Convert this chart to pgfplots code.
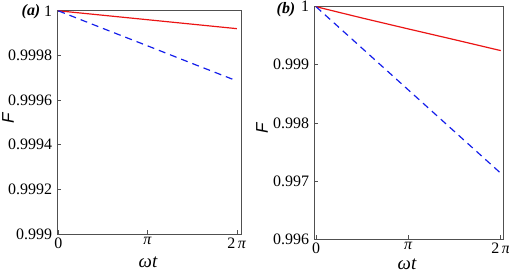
\documentclass[border=0pt]{standalone}
\usepackage{pgfplots}
\pgfplotsset{compat=1.18}
\usepackage{fontspec}
\setmainfont{Liberation Serif}
\newfontfamily\lsans{Liberation Sans}
\definecolor{framec}{RGB}{80,80,80}
\definecolor{myred}{RGB}{235,20,20}
\definecolor{myblue}{RGB}{20,30,235}
\pgfplotsset{
  mystyle/.style={
    scale only axis,
    anchor=south west,
    axis line style={framec, line width=0.9pt},
    tick style={framec, line width=0.6pt},
    major tick length=4bp,
    xtick pos=bottom, ytick pos=left,
    tick align=inside,
    xtick={0,3.14159,6.28319},
    xticklabels={0,\textit{π},2\,\textit{π}},
    tick label style={font=\fontsize{16}{16}\selectfont},
    xticklabel style={yshift=0bp},
    yticklabel style={xshift=-1.5bp},
    clip=false,
  }
}
\begin{document}
\begin{tikzpicture}[x=1bp,y=1bp]
\useasboundingbox (0,0) rectangle (509,272);
\begin{axis}[mystyle, at={(57bp,38bp)}, width=184bp, height=224bp,
  xmin=-0.046, xmax=6.43, ymin=0.999, ymax=1.0000036,
  ytick={0.999,0.9992,0.9994,0.9996,0.9998,1},
  yticklabels={0.999,0.9992,0.9994,0.9996,0.9998,1}]
\addplot[myred, line width=1.2pt] coordinates {(0,1) (1.5708,0.99998) (3.14159,0.99996) (4.71239,0.99994) (6.28319,0.99992)};
\addplot[myblue, line width=1.2pt, dash pattern=on 7bp off 5bp] coordinates {(0,1) (1.5708,0.999921) (3.14159,0.999843) (4.71239,0.999764) (6.28319,0.999686)};
\end{axis}
\begin{axis}[mystyle, at={(314bp,33bp)}, width=189bp, height=233bp,
  xmin=-0.068, xmax=6.36, ymin=0.996, ymax=1.000012,
  ytick={0.996,0.997,0.998,0.999,1},
  yticklabels={0.996,0.997,0.998,0.999,1}]
\addplot[myred, line width=1.2pt] coordinates {(0,1) (1.5708,0.999805) (3.14159,0.999617) (4.71239,0.999432) (6.28319,0.999244)};
\addplot[myblue, line width=1.2pt, dash pattern=on 7bp off 5bp] coordinates {(0,1) (1.5708,0.999283) (3.14159,0.998566) (4.71239,0.997849) (6.28319,0.997132)};
\end{axis}
\node[font=\fontsize{16}{16}\selectfont\bfseries\itshape] at (31,260) {(a)};
\node[font=\fontsize{16}{16}\selectfont\bfseries\itshape] at (286,262) {(b)};
\node[rotate=90, font=\fontsize{17}{17}\selectfont\lsans\itshape] at (8,154) {F};
\node[rotate=90, font=\fontsize{17}{17}\selectfont\lsans\itshape] at (262,144) {F};
\node[font=\fontsize{19}{19}\selectfont\itshape] at (148,10) {ωt};
\node[font=\fontsize{19}{19}\selectfont\itshape] at (407,8) {ωt};
\end{tikzpicture}
\end{document}
